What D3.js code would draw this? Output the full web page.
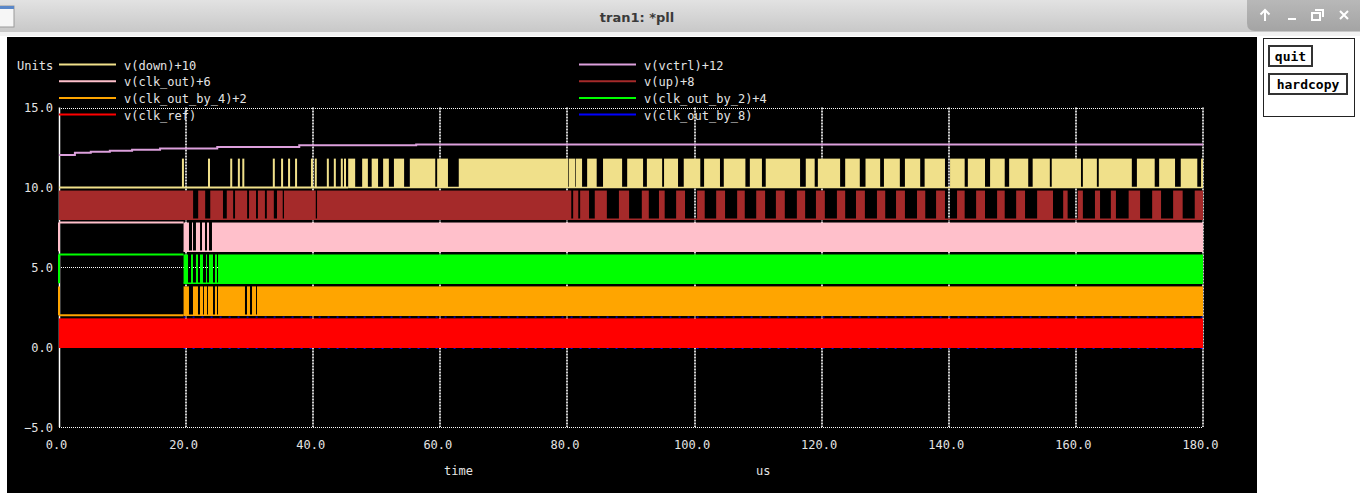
<!DOCTYPE html>
<html><head><meta charset="utf-8">
<script src="https://cdn.jsdelivr.net/npm/d3@7"></script>
<style>body{margin:0;background:#fff;overflow:hidden}svg{display:block}</style>
</head><body>
<svg id="c" width="1360" height="493"></svg>
<script>
// ---------------- data ----------------
const windowTitle = "tran1: *pll";
const timeTicks = [0, 20, 40, 60, 80, 100, 120, 140, 160, 180];
const voltTicks = [-5, 0, 5, 10, 15];
const xLabel = "time";
const xUnit = "us";
const yLabel = "Units";
const tStop = 180;
const vHigh = 1.8;

const legendLeft = ["v(down)+10", "v(clk_out)+6", "v(clk_out_by_4)+2", "v(clk_ref)"];
const legendRight = ["v(vctrl)+12", "v(up)+8", "v(clk_out_by_2)+4", "v(clk_out_by_8)"];

// v(vctrl): step times (us) and values (V)
const vctrlTimes = [0, 2.5, 5.0, 8.0, 11.5, 15.9, 24.9, 37.8, 56.2, 180];
const vctrlValues = [0.02, 0.17, 0.23, 0.29, 0.36, 0.43, 0.53, 0.63, 0.69, 0.69];

// v(down): single pulses, then dense switching with low gaps
const downSpikes = [19.5, 23.6, 27.1, 28.3, 29.0, 33.8, 35.1, 36.2, 37.3, 39.8, 40.4, 42.3, 43.4, 44.5, 45.0];
const downDenseStart = 45.5;
const downGaps = [[46.6,47.7],[48.6,49.2],[50.2,51.0],[51.9,52.7],[54.3,55.2],[59.2,59.5],[61.2,62.9],
  [80.1,80.2],[81.2,81.3],[82.3,83.1],[84.6,85.6],[88.6,89.4],[91.9,92.5],[94.9,95.2],[97.4,98.3],
  [100.9,101.5],[104.0,104.6],[108.0,108.7],[110.6,111.2],[116.6,117.5],[118.9,119.4],[122.9,123.7],
  [126.0,126.9],[129.2,129.8],[132.3,133.1],[135.5,136.2],[139.4,140.2],[142.5,143.0],[145.7,146.5],
  [148.8,149.5],[152.5,153.2],[155.9,156.2],[160.8,161.1],[163.3,163.6],[168.8,169.6],[172.4,173.1],
  [175.6,176.5],[179.1,179.7]];

// v(up): dense switching from t=0 with low gaps
const upDenseStart = 0;
const upGaps = [[21.1,21.9],[23.0,23.8],[25.8,26.4],[27.4,27.7],[29.6,29.9],[31.0,31.3],[32.4,32.7],
  [33.8,34.3],[35.2,35.4],[40.4,40.6],[80.6,80.9],[81.7,82.0],[83.4,84.3],[86.2,88.1],[89.7,91.7],
  [92.8,94.4],[95.3,97.1],[98.5,100.4],[101.6,103.4],[104.8,106.7],[107.9,109.7],[111.1,112.8],
  [114.2,116.1],[117.4,119.1],[120.5,122.4],[123.7,125.4],[126.8,128.7],[130.0,131.7],[133.1,135.0],
  [136.3,138.0],[139.4,141.3],[142.5,144.3],[145.7,147.6],[148.8,150.6],[152.0,153.9],[156.4,158.0],
  [158.7,160.3],[161.1,163.0],[163.8,165.5],[166.3,168.3],[170.1,172.0],[173.4,175.3],[176.8,178.7]];

// clock outputs: level held before lock start, dense switching afterwards
const clkStart = 19.6;
const clkOutGaps = [[20.45,20.93],[21.08,21.55],[22.19,22.50],[22.97,23.29],[23.60,24.07]];
const clkBy2Gaps = [[20.3,20.77],[21.08,21.55],[21.87,22.18],[22.66,23.13],[23.29,23.6],[24.23,24.54],[24.86,25.02]];
const clkBy4Gaps = [[20.45,21.08],[21.87,22.18],[22.66,22.81],[23.29,23.44],[24.23,24.54],[24.86,25.02],[29.26,29.58],[30.05,30.37],[31.0,31.15]];
const clkRefStart = 0;

// ---------------- styles ----------------
const col = {
  down: "#f0e08a", vctrl: "#dca0dc", clkOut: "#ffc0cb", up: "#a52a2a",
  by4: "#ffa500", by2: "#00ff00", ref: "#ff0000", by8: "#0000ff"
};
const legendLeftColors = [col.down, col.clkOut, col.by4, col.ref];
const legendRightColors = [col.vctrl, col.up, col.by2, col.by8];
const mono = "'DejaVu Sans Mono', 'Liberation Mono', monospace";
const txt = "#e4e4e4";

const svg = d3.select("#c");
const defs = svg.append("defs");
const g1 = defs.append("linearGradient").attr("id","tb").attr("x1",0).attr("y1",0).attr("x2",0).attr("y2",1);
g1.append("stop").attr("offset","0%").attr("stop-color","#e2e2e2");
g1.append("stop").attr("offset","100%").attr("stop-color","#c8c8c8");
const g2 = defs.append("linearGradient").attr("id","tbb").attr("x1",0).attr("y1",0).attr("x2",0).attr("y2",1);
g2.append("stop").attr("offset","0%").attr("stop-color","#b8b8b8");
g2.append("stop").attr("offset","100%").attr("stop-color","#a4a4a4");

// window frame
svg.append("rect").attr("width",1360).attr("height",493).attr("fill","#ffffff");
svg.append("rect").attr("width",1360).attr("height",32).attr("fill","url(#tb)");
svg.append("rect").attr("x",0).attr("y",32).attr("width",1360).attr("height",4).attr("fill","#f2f2f2");
// window icon
svg.append("rect").attr("x",-2).attr("y",6).attr("width",16).attr("height",21).attr("fill","#f6f6f6").attr("stroke","#9a9a9a");
svg.append("rect").attr("x",-2).attr("y",6).attr("width",16).attr("height",3).attr("fill","#5a87c8");
svg.append("text").attr("x",637).attr("y",22).attr("text-anchor","middle")
  .attr("font-family","'DejaVu Sans', sans-serif").attr("font-weight","bold").attr("font-size",13)
  .attr("fill","#3a3a3a").text(windowTitle);
// title bar buttons
svg.append("path").attr("d","M1247,0 H1360 V31 H1255 Q1247,31 1247,23 Z").attr("fill","url(#tbb)");
const ib = svg.append("g").attr("stroke","#fff").attr("stroke-width",2).attr("fill","none");
ib.append("path").attr("d","M1265,21 V10 M1260.5,14.5 L1265,10 L1269.5,14.5");
ib.append("path").attr("d","M1288,19 H1296");
ib.append("rect").attr("x",1312).attr("y",13).attr("width",8).attr("height",7);
ib.append("path").attr("d","M1315,10 H1323 V17");
ib.append("path").attr("d","M1340,11 L1348,19 M1348,11 L1340,19");

// plot background
svg.append("rect").attr("x",7).attr("y",37).attr("width",1250).attr("height",456).attr("fill","#000");

// right control panel
svg.append("rect").attr("x",1263.5).attr("y",38.5).attr("width",91).attr("height",78).attr("fill","#fff").attr("stroke","#222");
[["quit",1268,45,45],["hardcopy",1268,73,80]].forEach(([s,bx,by,bw])=>{
  svg.append("rect").attr("x",bx+1).attr("y",by+1).attr("width",bw-2).attr("height",20).attr("fill","#fff").attr("stroke","#333").attr("stroke-width",2);
  svg.append("text").attr("x",bx+bw/2).attr("y",by+15.5).attr("text-anchor","middle")
    .attr("font-family",mono).attr("font-weight","bold").attr("font-size",13).attr("fill","#000").text(s);
});

// scales
const x = d3.scaleLinear().domain([0, 180]).range([59, 1203]);
const y = d3.scaleLinear().domain([-5, 15]).range([427, 107.5]);

// grid (dotted)
const grid = svg.append("g").attr("stroke","#ffffff");
grid.selectAll(null).data(timeTicks.slice(1)).join("line")
  .attr("x1",d=>Math.round(x(d))).attr("x2",d=>Math.round(x(d))).attr("y1",y(15)).attr("y2",y(-5))
  .attr("stroke-width",1.6).attr("stroke-dasharray","2,1");
grid.selectAll(null).data(voltTicks).join("line")
  .attr("x1",x(0)).attr("x2",x(180)).attr("y1",d=>Math.round(y(d))+0.5).attr("y2",d=>Math.round(y(d))+0.5)
  .attr("stroke-width",1.2).attr("stroke-dasharray","1,1");
// y axis solid
svg.append("line").attr("x1",59.5).attr("x2",59.5).attr("y1",y(15)).attr("y2",y(-5)).attr("stroke","#ffffff").attr("stroke-width",1.5);

const plot = svg.append("g");

function segmentsOf(t0, t1, gaps){
  const segs=[]; let cur=t0;
  gaps.filter(g=>g[1]>t0 && g[0]<t1).sort((a,b)=>a[0]-b[0]).forEach(([a,b])=>{ if(a>cur) segs.push([cur,a]); cur=Math.max(cur,b); });
  if(cur<t1) segs.push([cur,t1]);
  return segs;
}
function dense(offset, t0, t1, gaps, color){
  plot.append("line").attr("x1",x(t0)).attr("x2",x(t1)).attr("y1",y(offset)).attr("y2",y(offset))
    .attr("stroke",color).attr("stroke-width",1.5);
  plot.append("g").selectAll("rect").data(segmentsOf(t0,t1,gaps)).join("rect")
    .attr("x",d=>x(d[0])).attr("width",d=>Math.max(1,x(d[1])-x(d[0])))
    .attr("y",y(offset+vHigh)).attr("height",y(offset)-y(offset+vHigh)).attr("fill",color);
}
function hold(offset, level, t0, t1, color){
  plot.append("line").attr("x1",x(t0)).attr("x2",x(t1)).attr("y1",y(offset+level)).attr("y2",y(offset+level))
    .attr("stroke",color).attr("stroke-width",2);
}
function edge(offset, t, color){
  plot.append("line").attr("x1",x(t)).attr("x2",x(t)).attr("y1",y(offset)).attr("y2",y(offset+vHigh))
    .attr("stroke",color).attr("stroke-width",2);
}

// v(down)+10
hold(10, 0, 0, downDenseStart, col.down);
plot.append("g").selectAll("rect").data(downSpikes).join("rect")
  .attr("x",d=>x(d)-1).attr("width",2).attr("y",y(10+vHigh)).attr("height",y(10)-y(10+vHigh)).attr("fill",col.down);
dense(10, downDenseStart, tStop, downGaps, col.down);
// v(vctrl)+12
plot.append("path").datum(vctrlTimes.map((t,i)=>[t, vctrlValues[i]+12]))
  .attr("d", d3.line().x(d=>x(d[0])).y(d=>y(d[1])).curve(d3.curveStepAfter))
  .attr("fill","none").attr("stroke",col.vctrl).attr("stroke-width",2);
// v(clk_out)+6
edge(6, 0, col.clkOut);
hold(6, vHigh, 0, clkStart, col.clkOut);
dense(6, clkStart, tStop, clkOutGaps, col.clkOut);
// v(up)+8
dense(8, upDenseStart, tStop, upGaps, col.up);
// v(clk_out_by_4)+2
edge(2, 0, col.by4);
hold(2, 0, 0, clkStart, col.by4);
dense(2, clkStart, tStop, clkBy4Gaps, col.by4);
// v(clk_out_by_2)+4
edge(4, 0, col.by2);
hold(4, vHigh, 0, clkStart, col.by2);
dense(4, clkStart, tStop, clkBy2Gaps, col.by2);
// v(clk_out_by_8) (mostly hidden under clk_ref)
[-0.08, vHigh+0.08].forEach(v=>{
  plot.append("line").attr("x1",x(clkStart)).attr("x2",x(tStop)).attr("y1",y(v)).attr("y2",y(v))
    .attr("stroke",col.by8).attr("stroke-width",1).attr("stroke-dasharray","2,7");
});
// v(clk_ref)
dense(0, clkRefStart, tStop, [], col.ref);

// axes labels
const fmt = d3.format(".1f");
svg.append("g").selectAll("text").data(voltTicks).join("text")
  .attr("x",53).attr("y",d=>y(d)+4.5).attr("text-anchor","end")
  .attr("font-family",mono).attr("font-size",12).attr("fill",txt).text(fmt);
svg.append("g").selectAll("text").data(timeTicks).join("text")
  .attr("x",d=>x(d)-2.5).attr("y",449).attr("text-anchor","middle")
  .attr("font-family",mono).attr("font-size",12).attr("fill",txt).text(fmt);
svg.append("text").attr("x",444).attr("y",475).attr("font-family",mono).attr("font-size",12).attr("fill",txt).text(xLabel);
svg.append("text").attr("x",756).attr("y",475).attr("font-family",mono).attr("font-size",12).attr("fill",txt).text(xUnit);
svg.append("text").attr("x",17).attr("y",70).attr("font-family",mono).attr("font-size",12).attr("fill",txt).text(yLabel);

// legend
function legend(names, colors, lx){
  const lg = svg.append("g");
  names.forEach((n,i)=>{
    const ly = 64.5 + i*16.7;
    lg.append("line").attr("x1",lx).attr("x2",lx+57).attr("y1",ly).attr("y2",ly).attr("stroke",colors[i]).attr("stroke-width",2);
    lg.append("text").attr("x",lx+65).attr("y",ly+5).attr("font-family",mono).attr("font-size",12).attr("fill",txt).text(n);
  });
}
legend(legendLeft, legendLeftColors, 59);
legend(legendRight, legendRightColors, 579);
</script>
</body></html>
